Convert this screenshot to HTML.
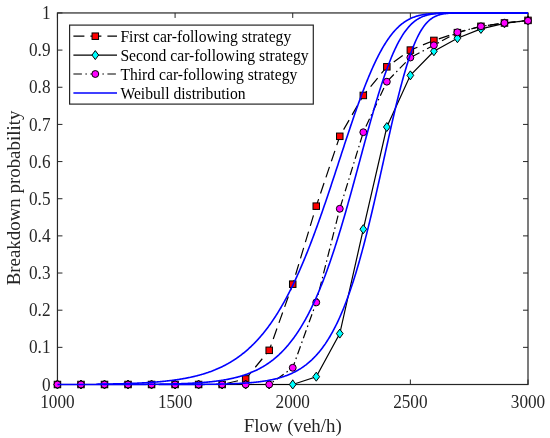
<!DOCTYPE html><html><head><meta charset="utf-8"><style>html,body{margin:0;padding:0;background:#fff;}svg{display:block;}</style></head><body>
<svg width="550" height="438" viewBox="0 0 550 438">
<rect width="550" height="438" fill="#fff"/>
<path d="M57.45 384.50V379.50M57.45 12.95V17.95M175.09 384.50V379.50M175.09 12.95V17.95M292.73 384.50V379.50M292.73 12.95V17.95M410.36 384.50V379.50M410.36 12.95V17.95M528.00 384.50V379.50M528.00 12.95V17.95M57.45 384.50H62.45M528.00 384.50H523.00M57.45 347.35H62.45M528.00 347.35H523.00M57.45 310.19H62.45M528.00 310.19H523.00M57.45 273.03H62.45M528.00 273.03H523.00M57.45 235.88H62.45M528.00 235.88H523.00M57.45 198.72H62.45M528.00 198.72H523.00M57.45 161.57H62.45M528.00 161.57H523.00M57.45 124.42H62.45M528.00 124.42H523.00M57.45 87.26H62.45M528.00 87.26H523.00M57.45 50.10H62.45M528.00 50.10H523.00M57.45 12.95H62.45M528.00 12.95H523.00" stroke="#262626" stroke-width="1" fill="none"/>
<rect x="57.45" y="12.95" width="470.55" height="371.55" stroke="#262626" stroke-width="1.2" fill="none"/>
<g font-family="Liberation Serif, Times New Roman, serif" font-size="17.2" fill="#262626">
<text transform="translate(57.45 407.8) scale(1 1.06)" text-anchor="middle">1000</text>
<text transform="translate(175.09 407.8) scale(1 1.06)" text-anchor="middle">1500</text>
<text transform="translate(292.73 407.8) scale(1 1.06)" text-anchor="middle">2000</text>
<text transform="translate(410.36 407.8) scale(1 1.06)" text-anchor="middle">2500</text>
<text transform="translate(528.00 407.8) scale(1 1.06)" text-anchor="middle">3000</text>
<text transform="translate(50.5 390.60) scale(1 1.06)" text-anchor="end">0</text>
<text transform="translate(50.5 353.45) scale(1 1.06)" text-anchor="end">0.1</text>
<text transform="translate(50.5 316.29) scale(1 1.06)" text-anchor="end">0.2</text>
<text transform="translate(50.5 279.13) scale(1 1.06)" text-anchor="end">0.3</text>
<text transform="translate(50.5 241.98) scale(1 1.06)" text-anchor="end">0.4</text>
<text transform="translate(50.5 204.82) scale(1 1.06)" text-anchor="end">0.5</text>
<text transform="translate(50.5 167.67) scale(1 1.06)" text-anchor="end">0.6</text>
<text transform="translate(50.5 130.52) scale(1 1.06)" text-anchor="end">0.7</text>
<text transform="translate(50.5 93.36) scale(1 1.06)" text-anchor="end">0.8</text>
<text transform="translate(50.5 56.20) scale(1 1.06)" text-anchor="end">0.9</text>
<text transform="translate(50.5 19.05) scale(1 1.06)" text-anchor="end">1</text>
</g>
<text x="292.73" y="431.6" text-anchor="middle" font-family="Liberation Serif, Times New Roman, serif" font-size="18.9" fill="#262626">Flow (veh/h)</text>
<text transform="translate(20.3 198.0) rotate(-90)" text-anchor="middle" font-family="Liberation Serif, Times New Roman, serif" font-size="18.9" fill="#262626">Breakdown probability</text>
<polyline points="57.45,384.50 80.98,384.50 104.51,384.50 128.03,384.50 151.56,384.50 175.09,384.50 198.62,384.50 222.14,384.50 245.67,378.93 269.20,350.32 292.73,284.18 316.25,206.16 339.78,136.30 363.31,95.43 386.83,66.82 410.36,50.10 433.89,40.44 457.42,32.64 480.94,26.33 504.47,22.98 528.00,20.38" fill="none" stroke="#000" stroke-width="1.2" stroke-dasharray="11 6"/>
<polyline points="57.45,384.50 80.98,384.50 104.51,384.50 128.03,384.50 151.56,384.50 175.09,384.50 198.62,384.50 222.14,384.50 245.67,384.50 269.20,384.50 292.73,384.50 316.25,376.70 339.78,333.60 363.31,229.19 386.83,127.02 410.36,75.37 433.89,51.22 457.42,38.22 480.94,28.93 504.47,23.35 528.00,20.38" fill="none" stroke="#000" stroke-width="1.2"/>
<polyline points="57.45,384.50 80.98,384.50 104.51,384.50 128.03,384.50 151.56,384.50 175.09,384.50 198.62,384.50 222.14,384.50 245.67,384.50 269.20,384.50 292.73,367.78 316.25,302.39 339.78,208.76 363.31,132.22 386.83,81.69 410.36,57.54 433.89,45.27 457.42,32.27 480.94,26.33 504.47,22.98 528.00,20.75" fill="none" stroke="#000" stroke-width="1.2" stroke-dasharray="8.5 3.5 1.5 3.5"/>
<g fill="#f00" stroke="#000" stroke-width="1"><rect x="54.20" y="381.25" width="6.50" height="6.50"/><rect x="77.73" y="381.25" width="6.50" height="6.50"/><rect x="101.26" y="381.25" width="6.50" height="6.50"/><rect x="124.78" y="381.25" width="6.50" height="6.50"/><rect x="148.31" y="381.25" width="6.50" height="6.50"/><rect x="171.84" y="381.25" width="6.50" height="6.50"/><rect x="195.37" y="381.25" width="6.50" height="6.50"/><rect x="218.89" y="381.25" width="6.50" height="6.50"/><rect x="242.42" y="375.68" width="6.50" height="6.50"/><rect x="265.95" y="347.07" width="6.50" height="6.50"/><rect x="289.48" y="280.93" width="6.50" height="6.50"/><rect x="313.00" y="202.91" width="6.50" height="6.50"/><rect x="336.53" y="133.05" width="6.50" height="6.50"/><rect x="360.06" y="92.18" width="6.50" height="6.50"/><rect x="383.58" y="63.57" width="6.50" height="6.50"/><rect x="407.11" y="46.85" width="6.50" height="6.50"/><rect x="430.64" y="37.19" width="6.50" height="6.50"/><rect x="454.17" y="29.39" width="6.50" height="6.50"/><rect x="477.69" y="23.08" width="6.50" height="6.50"/><rect x="501.22" y="19.73" width="6.50" height="6.50"/><rect x="524.75" y="17.13" width="6.50" height="6.50"/></g>
<g fill="#0ff" stroke="#000" stroke-width="1"><path d="M57.45 380.00L60.80 384.50L57.45 389.00L54.10 384.50Z"/><path d="M80.98 380.00L84.33 384.50L80.98 389.00L77.63 384.50Z"/><path d="M104.51 380.00L107.86 384.50L104.51 389.00L101.16 384.50Z"/><path d="M128.03 380.00L131.38 384.50L128.03 389.00L124.68 384.50Z"/><path d="M151.56 380.00L154.91 384.50L151.56 389.00L148.21 384.50Z"/><path d="M175.09 380.00L178.44 384.50L175.09 389.00L171.74 384.50Z"/><path d="M198.62 380.00L201.97 384.50L198.62 389.00L195.27 384.50Z"/><path d="M222.14 380.00L225.49 384.50L222.14 389.00L218.79 384.50Z"/><path d="M245.67 380.00L249.02 384.50L245.67 389.00L242.32 384.50Z"/><path d="M269.20 380.00L272.55 384.50L269.20 389.00L265.85 384.50Z"/><path d="M292.73 380.00L296.08 384.50L292.73 389.00L289.38 384.50Z"/><path d="M316.25 372.20L319.60 376.70L316.25 381.20L312.90 376.70Z"/><path d="M339.78 329.10L343.13 333.60L339.78 338.10L336.43 333.60Z"/><path d="M363.31 224.69L366.66 229.19L363.31 233.69L359.96 229.19Z"/><path d="M386.83 122.52L390.19 127.02L386.83 131.52L383.48 127.02Z"/><path d="M410.36 70.87L413.71 75.37L410.36 79.87L407.01 75.37Z"/><path d="M433.89 46.72L437.24 51.22L433.89 55.72L430.54 51.22Z"/><path d="M457.42 33.72L460.77 38.22L457.42 42.72L454.07 38.22Z"/><path d="M480.94 24.43L484.30 28.93L480.94 33.43L477.59 28.93Z"/><path d="M504.47 18.85L507.82 23.35L504.47 27.85L501.12 23.35Z"/><path d="M528.00 15.88L531.35 20.38L528.00 24.88L524.65 20.38Z"/></g>
<g fill="#f0f" stroke="#000" stroke-width="1"><circle cx="57.45" cy="384.50" r="3.45"/><circle cx="80.98" cy="384.50" r="3.45"/><circle cx="104.51" cy="384.50" r="3.45"/><circle cx="128.03" cy="384.50" r="3.45"/><circle cx="151.56" cy="384.50" r="3.45"/><circle cx="175.09" cy="384.50" r="3.45"/><circle cx="198.62" cy="384.50" r="3.45"/><circle cx="222.14" cy="384.50" r="3.45"/><circle cx="245.67" cy="384.50" r="3.45"/><circle cx="269.20" cy="384.50" r="3.45"/><circle cx="292.73" cy="367.78" r="3.45"/><circle cx="316.25" cy="302.39" r="3.45"/><circle cx="339.78" cy="208.76" r="3.45"/><circle cx="363.31" cy="132.22" r="3.45"/><circle cx="386.83" cy="81.69" r="3.45"/><circle cx="410.36" cy="57.54" r="3.45"/><circle cx="433.89" cy="45.27" r="3.45"/><circle cx="457.42" cy="32.27" r="3.45"/><circle cx="480.94" cy="26.33" r="3.45"/><circle cx="504.47" cy="22.98" r="3.45"/><circle cx="528.00" cy="20.75" r="3.45"/></g>
<polyline points="96.27,384.19 96.86,384.19 97.45,384.18 98.03,384.17 98.62,384.16 99.21,384.16 99.80,384.15 100.39,384.14 100.98,384.13 101.56,384.12 102.15,384.12 102.74,384.11 103.33,384.10 103.92,384.09 104.51,384.08 105.09,384.07 105.68,384.06 106.27,384.05 106.86,384.04 107.45,384.03 108.03,384.02 108.62,384.01 109.21,384.00 109.80,383.99 110.39,383.98 110.98,383.97 111.56,383.96 112.15,383.95 112.74,383.93 113.33,383.92 113.92,383.91 114.50,383.90 115.09,383.88 115.68,383.87 116.27,383.86 116.86,383.84 117.45,383.83 118.03,383.82 118.62,383.80 119.21,383.79 119.80,383.77 120.39,383.76 120.97,383.74 121.56,383.72 122.15,383.71 122.74,383.69 123.33,383.67 123.92,383.66 124.50,383.64 125.09,383.62 125.68,383.60 126.27,383.58 126.86,383.57 127.44,383.55 128.03,383.53 128.62,383.51 129.21,383.49 129.80,383.47 130.39,383.44 130.97,383.42 131.56,383.40 132.15,383.38 132.74,383.35 133.33,383.33 133.91,383.31 134.50,383.28 135.09,383.26 135.68,383.23 136.27,383.21 136.86,383.18 137.44,383.16 138.03,383.13 138.62,383.10 139.21,383.07 139.80,383.04 140.38,383.01 140.97,382.98 141.56,382.95 142.15,382.92 142.74,382.89 143.33,382.86 143.91,382.83 144.50,382.79 145.09,382.76 145.68,382.73 146.27,382.69 146.85,382.66 147.44,382.62 148.03,382.58 148.62,382.55 149.21,382.51 149.80,382.47 150.38,382.43 150.97,382.39 151.56,382.35 152.15,382.31 152.74,382.26 153.32,382.22 153.91,382.18 154.50,382.13 155.09,382.09 155.68,382.04 156.27,381.99 156.85,381.94 157.44,381.89 158.03,381.84 158.62,381.79 159.21,381.74 159.79,381.69 160.38,381.64 160.97,381.58 161.56,381.53 162.15,381.47 162.74,381.41 163.32,381.35 163.91,381.30 164.50,381.24 165.09,381.17 165.68,381.11 166.26,381.05 166.85,380.98 167.44,380.92 168.03,380.85 168.62,380.78 169.21,380.71 169.79,380.64 170.38,380.57 170.97,380.50 171.56,380.43 172.15,380.35 172.73,380.27 173.32,380.20 173.91,380.12 174.50,380.04 175.09,379.96 175.68,379.87 176.26,379.79 176.85,379.70 177.44,379.61 178.03,379.53 178.62,379.44 179.20,379.34 179.79,379.25 180.38,379.16 180.97,379.06 181.56,378.96 182.15,378.86 182.73,378.76 183.32,378.66 183.91,378.55 184.50,378.45 185.09,378.34 185.67,378.23 186.26,378.12 186.85,378.00 187.44,377.89 188.03,377.77 188.62,377.65 189.20,377.53 189.79,377.41 190.38,377.28 190.97,377.16 191.56,377.03 192.14,376.89 192.73,376.76 193.32,376.63 193.91,376.49 194.50,376.35 195.09,376.21 195.67,376.06 196.26,375.92 196.85,375.77 197.44,375.62 198.03,375.46 198.62,375.31 199.20,375.15 199.79,374.99 200.38,374.83 200.97,374.66 201.56,374.49 202.14,374.32 202.73,374.15 203.32,373.97 203.91,373.79 204.50,373.61 205.09,373.42 205.67,373.24 206.26,373.05 206.85,372.85 207.44,372.66 208.03,372.46 208.61,372.25 209.20,372.05 209.79,371.84 210.38,371.63 210.97,371.41 211.56,371.20 212.14,370.97 212.73,370.75 213.32,370.52 213.91,370.29 214.50,370.05 215.08,369.82 215.67,369.57 216.26,369.33 216.85,369.08 217.44,368.82 218.03,368.57 218.61,368.31 219.20,368.04 219.79,367.77 220.38,367.50 220.97,367.23 221.55,366.95 222.14,366.66 222.73,366.37 223.32,366.08 223.91,365.78 224.50,365.48 225.08,365.18 225.67,364.87 226.26,364.55 226.85,364.23 227.44,363.91 228.02,363.58 228.61,363.25 229.20,362.91 229.79,362.57 230.38,362.22 230.97,361.87 231.55,361.51 232.14,361.15 232.73,360.79 233.32,360.41 233.91,360.04 234.49,359.65 235.08,359.27 235.67,358.87 236.26,358.48 236.85,358.07 237.44,357.66 238.02,357.25 238.61,356.83 239.20,356.40 239.79,355.97 240.38,355.53 240.96,355.09 241.55,354.64 242.14,354.18 242.73,353.72 243.32,353.25 243.91,352.78 244.49,352.30 245.08,351.81 245.67,351.32 246.26,350.82 246.85,350.31 247.43,349.80 248.02,349.28 248.61,348.75 249.20,348.22 249.79,347.68 250.38,347.13 250.96,346.58 251.55,346.01 252.14,345.45 252.73,344.87 253.32,344.29 253.90,343.70 254.49,343.10 255.08,342.50 255.67,341.88 256.26,341.26 256.85,340.64 257.43,340.00 258.02,339.36 258.61,338.70 259.20,338.05 259.79,337.38 260.37,336.70 260.96,336.02 261.55,335.33 262.14,334.63 262.73,333.92 263.32,333.20 263.90,332.48 264.49,331.74 265.08,331.00 265.67,330.25 266.26,329.49 266.84,328.72 267.43,327.94 268.02,327.16 268.61,326.36 269.20,325.56 269.79,324.74 270.37,323.92 270.96,323.09 271.55,322.25 272.14,321.39 272.73,320.53 273.31,319.66 273.90,318.78 274.49,317.90 275.08,317.00 275.67,316.09 276.26,315.17 276.84,314.24 277.43,313.31 278.02,312.36 278.61,311.40 279.20,310.43 279.78,309.45 280.37,308.47 280.96,307.47 281.55,306.46 282.14,305.44 282.73,304.41 283.31,303.37 283.90,302.33 284.49,301.27 285.08,300.20 285.67,299.12 286.25,298.02 286.84,296.92 287.43,295.81 288.02,294.69 288.61,293.55 289.20,292.41 289.78,291.26 290.37,290.09 290.96,288.92 291.55,287.73 292.14,286.53 292.73,285.32 293.31,284.11 293.90,282.88 294.49,281.64 295.08,280.39 295.67,279.12 296.25,277.85 296.84,276.57 297.43,275.28 298.02,273.97 298.61,272.66 299.20,271.33 299.78,270.00 300.37,268.65 300.96,267.29 301.55,265.93 302.14,264.55 302.72,263.16 303.31,261.76 303.90,260.35 304.49,258.93 305.08,257.50 305.67,256.06 306.25,254.61 306.84,253.15 307.43,251.68 308.02,250.20 308.61,248.71 309.19,247.21 309.78,245.70 310.37,244.18 310.96,242.65 311.55,241.11 312.14,239.56 312.72,238.01 313.31,236.44 313.90,234.87 314.49,233.28 315.08,231.69 315.66,230.09 316.25,228.48 316.84,226.86 317.43,225.23 318.02,223.60 318.61,221.95 319.19,220.30 319.78,218.64 320.37,216.98 320.96,215.30 321.55,213.62 322.13,211.93 322.72,210.24 323.31,208.53 323.90,206.83 324.49,205.11 325.08,203.39 325.66,201.66 326.25,199.93 326.84,198.19 327.43,196.45 328.02,194.70 328.60,192.94 329.19,191.18 329.78,189.42 330.37,187.65 330.96,185.88 331.55,184.11 332.13,182.33 332.72,180.54 333.31,178.76 333.90,176.97 334.49,175.18 335.07,173.38 335.66,171.59 336.25,169.79 336.84,167.99 337.43,166.19 338.02,164.39 338.60,162.59 339.19,160.79 339.78,158.99 340.37,157.19 340.96,155.38 341.54,153.58 342.13,151.78 342.72,149.99 343.31,148.19 343.90,146.39 344.49,144.60 345.07,142.81 345.66,141.03 346.25,139.24 346.84,137.46 347.43,135.69 348.01,133.92 348.60,132.15 349.19,130.39 349.78,128.63 350.37,126.88 350.96,125.13 351.54,123.39 352.13,121.66 352.72,119.94 353.31,118.22 353.90,116.51 354.48,114.80 355.07,113.11 355.66,111.42 356.25,109.74 356.84,108.07 357.43,106.41 358.01,104.76 358.60,103.12 359.19,101.49 359.78,99.87 360.37,98.26 360.95,96.66 361.54,95.08 362.13,93.50 362.72,91.94 363.31,90.39 363.90,88.85 364.48,87.33 365.07,85.82 365.66,84.32 366.25,82.83 366.84,81.36 367.42,79.91 368.01,78.46 368.60,77.04 369.19,75.63 369.78,74.23 370.37,72.85 370.95,71.48 371.54,70.13 372.13,68.80 372.72,67.48 373.31,66.17 373.89,64.89 374.48,63.62 375.07,62.37 375.66,61.13 376.25,59.91 376.84,58.71 377.42,57.53 378.01,56.36 378.60,55.21 379.19,54.08 379.78,52.97 380.36,51.88 380.95,50.80 381.54,49.74 382.13,48.70 382.72,47.67 383.31,46.67 383.89,45.68 384.48,44.71 385.07,43.76 385.66,42.83 386.25,41.91 386.83,41.01 387.42,40.14 388.01,39.27 388.60,38.43 389.19,37.61 389.78,36.80 390.36,36.01 390.95,35.24 391.54,34.48 392.13,33.75 392.72,33.03 393.31,32.32 393.89,31.64 394.48,30.97 395.07,30.32 395.66,29.68 396.25,29.06 396.83,28.46 397.42,27.88 398.01,27.31 398.60,26.75 399.19,26.21 399.78,25.69 400.36,25.18 400.95,24.69 401.54,24.21 402.13,23.74 402.72,23.29 403.30,22.86 403.89,22.44 404.48,22.03 405.07,21.63 405.66,21.25 406.25,20.88 406.83,20.53 407.42,20.18 408.01,19.85 408.60,19.53 409.19,19.22 409.77,18.92 410.36,18.64 410.95,18.36 411.54,18.10 412.13,17.84 412.72,17.60 413.30,17.36 413.89,17.14 414.48,16.92 415.07,16.71 415.66,16.51 416.24,16.32 416.83,16.14 417.42,15.97 418.01,15.80 418.60,15.64 419.19,15.49 419.77,15.35 420.36,15.21 420.95,15.08 421.54,14.96 422.13,14.84 422.71,14.72 423.30,14.62 423.89,14.51 424.48,14.42 425.07,14.33 425.66,14.24 426.24,14.16 426.83,14.08 427.42,14.01 428.01,13.94 428.60,13.87 429.18,13.81 429.77,13.75 430.36,13.70 430.95,13.65 431.54,13.60 432.13,13.55 432.71,13.51 433.30,13.47 433.89,13.43 434.48,13.40 435.07,13.36 435.65,13.33 436.24,13.30 436.83,13.28 437.42,13.25 438.01,13.23 438.60,13.20 439.18,13.18 439.77,13.17 440.36,13.15 440.95,13.13 441.54,13.12 442.12,13.10 442.71,13.09 443.30,13.08 443.89,13.07 444.48,13.06 445.07,13.05 445.65,13.04 446.24,13.03 446.83,13.02 447.42,13.02 448.01,13.01 448.59,13.00 449.18,13.00 449.77,12.99 450.36,12.99 450.95,12.99 451.54,12.98 452.12,12.98 452.71,12.98 453.30,12.97 453.89,12.97 454.48,12.97 455.06,12.97 455.65,12.97 456.24,12.96 456.83,12.96 457.42,12.96 458.01,12.96 458.59,12.96 459.18,12.96 459.77,12.96 460.36,12.96 460.95,12.96 461.53,12.95 462.12,12.95 462.71,12.95 463.30,12.95 463.89,12.95 464.48,12.95 465.06,12.95 465.65,12.95 466.24,12.95 466.83,12.95 467.42,12.95 468.00,12.95 468.59,12.95 469.18,12.95 469.77,12.95 470.36,12.95 470.95,12.95 471.53,12.95 472.12,12.95 472.71,12.95 473.30,12.95 473.89,12.95 474.47,12.95 475.06,12.95 475.65,12.95 476.24,12.95 476.83,12.95 477.42,12.95 478.00,12.95 478.59,12.95 479.18,12.95 479.77,12.95 480.36,12.95 480.94,12.95 481.53,12.95 482.12,12.95 482.71,12.95 483.30,12.95 483.89,12.95 484.47,12.95 485.06,12.95 485.65,12.95 486.24,12.95 486.83,12.95 487.42,12.95 488.00,12.95 488.59,12.95 489.18,12.95 489.77,12.95 490.36,12.95 490.94,12.95 491.53,12.95 492.12,12.95 492.71,12.95 493.30,12.95 493.89,12.95 494.47,12.95 495.06,12.95 495.65,12.95 496.24,12.95 496.83,12.95 497.41,12.95 498.00,12.95 498.59,12.95 499.18,12.95 499.77,12.95 500.36,12.95 500.94,12.95 501.53,12.95 502.12,12.95 502.71,12.95 503.30,12.95 503.88,12.95 504.47,12.95 505.06,12.95 505.65,12.95 506.24,12.95 506.83,12.95 507.41,12.95 508.00,12.95 508.59,12.95 509.18,12.95 509.77,12.95 510.35,12.95 510.94,12.95 511.53,12.95 512.12,12.95 512.71,12.95 513.30,12.95 513.88,12.95 514.47,12.95 515.06,12.95 515.65,12.95 516.24,12.95 516.82,12.95 517.41,12.95 518.00,12.95 518.59,12.95 519.18,12.95 519.77,12.95 520.35,12.95 520.94,12.95 521.53,12.95 522.12,12.95 522.71,12.95 523.29,12.95 523.88,12.95 524.47,12.95 525.06,12.95 525.65,12.95 526.24,12.95 526.82,12.95 527.41,12.95 528.00,12.95" fill="none" stroke="#00f" stroke-width="1.6" stroke-linejoin="round"/>
<polyline points="57.45,384.50 58.04,384.50 58.63,384.50 59.21,384.50 59.80,384.50 60.39,384.50 60.98,384.50 61.57,384.50 62.16,384.50 62.74,384.50 63.33,384.50 63.92,384.50 64.51,384.50 65.10,384.50 65.68,384.50 66.27,384.50 66.86,384.50 67.45,384.50 68.04,384.50 68.63,384.50 69.21,384.50 69.80,384.50 70.39,384.50 70.98,384.50 71.57,384.50 72.15,384.50 72.74,384.50 73.33,384.50 73.92,384.50 74.51,384.50 75.10,384.50 75.68,384.50 76.27,384.50 76.86,384.50 77.45,384.50 78.04,384.50 78.62,384.50 79.21,384.50 79.80,384.50 80.39,384.50 80.98,384.50 81.57,384.49 82.15,384.49 82.74,384.49 83.33,384.49 83.92,384.49 84.51,384.49 85.09,384.49 85.68,384.49 86.27,384.49 86.86,384.49 87.45,384.49 88.04,384.49 88.62,384.49 89.21,384.49 89.80,384.49 90.39,384.49 90.98,384.49 91.56,384.49 92.15,384.49 92.74,384.49 93.33,384.49 93.92,384.49 94.51,384.49 95.09,384.49 95.68,384.49 96.27,384.49 96.86,384.49 97.45,384.49 98.03,384.49 98.62,384.49 99.21,384.49 99.80,384.49 100.39,384.48 100.98,384.48 101.56,384.48 102.15,384.48 102.74,384.48 103.33,384.48 103.92,384.48 104.51,384.48 105.09,384.48 105.68,384.48 106.27,384.48 106.86,384.48 107.45,384.48 108.03,384.48 108.62,384.48 109.21,384.47 109.80,384.47 110.39,384.47 110.98,384.47 111.56,384.47 112.15,384.47 112.74,384.47 113.33,384.47 113.92,384.47 114.50,384.47 115.09,384.46 115.68,384.46 116.27,384.46 116.86,384.46 117.45,384.46 118.03,384.46 118.62,384.46 119.21,384.46 119.80,384.45 120.39,384.45 120.97,384.45 121.56,384.45 122.15,384.45 122.74,384.45 123.33,384.45 123.92,384.44 124.50,384.44 125.09,384.44 125.68,384.44 126.27,384.44 126.86,384.43 127.44,384.43 128.03,384.43 128.62,384.43 129.21,384.43 129.80,384.42 130.39,384.42 130.97,384.42 131.56,384.42 132.15,384.41 132.74,384.41 133.33,384.41 133.91,384.41 134.50,384.40 135.09,384.40 135.68,384.40 136.27,384.40 136.86,384.39 137.44,384.39 138.03,384.39 138.62,384.38 139.21,384.38 139.80,384.38 140.38,384.37 140.97,384.37 141.56,384.36 142.15,384.36 142.74,384.36 143.33,384.35 143.91,384.35 144.50,384.34 145.09,384.34 145.68,384.33 146.27,384.33 146.85,384.32 147.44,384.32 148.03,384.31 148.62,384.31 149.21,384.30 149.80,384.30 150.38,384.29 150.97,384.29 151.56,384.28 152.15,384.27 152.74,384.27 153.32,384.26 153.91,384.26 154.50,384.25 155.09,384.24 155.68,384.23 156.27,384.23 156.85,384.22 157.44,384.21 158.03,384.20 158.62,384.20 159.21,384.19 159.79,384.18 160.38,384.17 160.97,384.16 161.56,384.15 162.15,384.14 162.74,384.13 163.32,384.12 163.91,384.11 164.50,384.10 165.09,384.09 165.68,384.08 166.26,384.07 166.85,384.06 167.44,384.05 168.03,384.04 168.62,384.02 169.21,384.01 169.79,384.00 170.38,383.98 170.97,383.97 171.56,383.96 172.15,383.94 172.73,383.93 173.32,383.91 173.91,383.90 174.50,383.88 175.09,383.87 175.68,383.85 176.26,383.83 176.85,383.82 177.44,383.80 178.03,383.78 178.62,383.76 179.20,383.74 179.79,383.72 180.38,383.70 180.97,383.68 181.56,383.66 182.15,383.64 182.73,383.62 183.32,383.60 183.91,383.58 184.50,383.55 185.09,383.53 185.67,383.50 186.26,383.48 186.85,383.45 187.44,383.43 188.03,383.40 188.62,383.37 189.20,383.35 189.79,383.32 190.38,383.29 190.97,383.26 191.56,383.23 192.14,383.20 192.73,383.17 193.32,383.13 193.91,383.10 194.50,383.07 195.09,383.03 195.67,383.00 196.26,382.96 196.85,382.92 197.44,382.88 198.03,382.85 198.62,382.81 199.20,382.76 199.79,382.72 200.38,382.68 200.97,382.64 201.56,382.59 202.14,382.55 202.73,382.50 203.32,382.45 203.91,382.41 204.50,382.36 205.09,382.31 205.67,382.26 206.26,382.20 206.85,382.15 207.44,382.09 208.03,382.04 208.61,381.98 209.20,381.92 209.79,381.86 210.38,381.80 210.97,381.74 211.56,381.68 212.14,381.61 212.73,381.54 213.32,381.48 213.91,381.41 214.50,381.34 215.08,381.26 215.67,381.19 216.26,381.12 216.85,381.04 217.44,380.96 218.03,380.88 218.61,380.80 219.20,380.72 219.79,380.63 220.38,380.54 220.97,380.45 221.55,380.36 222.14,380.27 222.73,380.18 223.32,380.08 223.91,379.98 224.50,379.88 225.08,379.78 225.67,379.68 226.26,379.57 226.85,379.46 227.44,379.35 228.02,379.24 228.61,379.12 229.20,379.01 229.79,378.89 230.38,378.76 230.97,378.64 231.55,378.51 232.14,378.38 232.73,378.25 233.32,378.12 233.91,377.98 234.49,377.84 235.08,377.70 235.67,377.55 236.26,377.40 236.85,377.25 237.44,377.10 238.02,376.94 238.61,376.78 239.20,376.61 239.79,376.45 240.38,376.28 240.96,376.11 241.55,375.93 242.14,375.75 242.73,375.57 243.32,375.38 243.91,375.19 244.49,374.99 245.08,374.80 245.67,374.60 246.26,374.39 246.85,374.18 247.43,373.97 248.02,373.75 248.61,373.53 249.20,373.30 249.79,373.08 250.38,372.84 250.96,372.60 251.55,372.36 252.14,372.11 252.73,371.86 253.32,371.61 253.90,371.35 254.49,371.08 255.08,370.81 255.67,370.54 256.26,370.25 256.85,369.97 257.43,369.68 258.02,369.38 258.61,369.08 259.20,368.78 259.79,368.46 260.37,368.15 260.96,367.82 261.55,367.49 262.14,367.16 262.73,366.82 263.32,366.47 263.90,366.12 264.49,365.76 265.08,365.40 265.67,365.02 266.26,364.65 266.84,364.26 267.43,363.87 268.02,363.47 268.61,363.07 269.20,362.66 269.79,362.24 270.37,361.81 270.96,361.38 271.55,360.94 272.14,360.49 272.73,360.04 273.31,359.57 273.90,359.10 274.49,358.62 275.08,358.14 275.67,357.64 276.26,357.14 276.84,356.63 277.43,356.11 278.02,355.58 278.61,355.04 279.20,354.50 279.78,353.94 280.37,353.38 280.96,352.81 281.55,352.23 282.14,351.64 282.73,351.04 283.31,350.43 283.90,349.81 284.49,349.18 285.08,348.54 285.67,347.89 286.25,347.23 286.84,346.56 287.43,345.88 288.02,345.19 288.61,344.49 289.20,343.78 289.78,343.05 290.37,342.32 290.96,341.58 291.55,340.82 292.14,340.05 292.73,339.28 293.31,338.49 293.90,337.68 294.49,336.87 295.08,336.05 295.67,335.21 296.25,334.36 296.84,333.50 297.43,332.62 298.02,331.74 298.61,330.84 299.20,329.92 299.78,329.00 300.37,328.06 300.96,327.11 301.55,326.15 302.14,325.17 302.72,324.18 303.31,323.17 303.90,322.16 304.49,321.12 305.08,320.08 305.67,319.02 306.25,317.95 306.84,316.86 307.43,315.76 308.02,314.64 308.61,313.51 309.19,312.36 309.78,311.20 310.37,310.03 310.96,308.84 311.55,307.64 312.14,306.42 312.72,305.19 313.31,303.94 313.90,302.67 314.49,301.39 315.08,300.10 315.66,298.79 316.25,297.46 316.84,296.12 317.43,294.77 318.02,293.40 318.61,292.01 319.19,290.61 319.78,289.19 320.37,287.76 320.96,286.31 321.55,284.84 322.13,283.36 322.72,281.86 323.31,280.35 323.90,278.82 324.49,277.28 325.08,275.72 325.66,274.15 326.25,272.56 326.84,270.95 327.43,269.33 328.02,267.69 328.60,266.04 329.19,264.37 329.78,262.69 330.37,260.99 330.96,259.28 331.55,257.55 332.13,255.81 332.72,254.05 333.31,252.28 333.90,250.49 334.49,248.69 335.07,246.87 335.66,245.04 336.25,243.20 336.84,241.34 337.43,239.47 338.02,237.58 338.60,235.68 339.19,233.77 339.78,231.84 340.37,229.90 340.96,227.95 341.54,225.99 342.13,224.02 342.72,222.03 343.31,220.03 343.90,218.02 344.49,216.00 345.07,213.97 345.66,211.93 346.25,209.87 346.84,207.81 347.43,205.74 348.01,203.66 348.60,201.57 349.19,199.47 349.78,197.36 350.37,195.25 350.96,193.13 351.54,191.00 352.13,188.87 352.72,186.72 353.31,184.58 353.90,182.42 354.48,180.27 355.07,178.11 355.66,175.94 356.25,173.77 356.84,171.60 357.43,169.42 358.01,167.25 358.60,165.07 359.19,162.89 359.78,160.71 360.37,158.53 360.95,156.35 361.54,154.17 362.13,151.99 362.72,149.81 363.31,147.64 363.90,145.47 364.48,143.30 365.07,141.14 365.66,138.98 366.25,136.83 366.84,134.68 367.42,132.54 368.01,130.41 368.60,128.28 369.19,126.17 369.78,124.06 370.37,121.96 370.95,119.87 371.54,117.79 372.13,115.72 372.72,113.66 373.31,111.62 373.89,109.59 374.48,107.57 375.07,105.56 375.66,103.57 376.25,101.60 376.84,99.64 377.42,97.70 378.01,95.77 378.60,93.86 379.19,91.96 379.78,90.09 380.36,88.23 380.95,86.40 381.54,84.58 382.13,82.78 382.72,81.00 383.31,79.25 383.89,77.51 384.48,75.80 385.07,74.11 385.66,72.44 386.25,70.79 386.83,69.17 387.42,67.57 388.01,66.00 388.60,64.44 389.19,62.92 389.78,61.42 390.36,59.94 390.95,58.49 391.54,57.06 392.13,55.66 392.72,54.28 393.31,52.93 393.89,51.61 394.48,50.32 395.07,49.04 395.66,47.80 396.25,46.58 396.83,45.39 397.42,44.23 398.01,43.09 398.60,41.98 399.19,40.89 399.78,39.83 400.36,38.80 400.95,37.80 401.54,36.82 402.13,35.86 402.72,34.93 403.30,34.03 403.89,33.15 404.48,32.30 405.07,31.48 405.66,30.67 406.25,29.90 406.83,29.14 407.42,28.41 408.01,27.71 408.60,27.02 409.19,26.36 409.77,25.73 410.36,25.11 410.95,24.52 411.54,23.95 412.13,23.40 412.72,22.87 413.30,22.36 413.89,21.87 414.48,21.40 415.07,20.95 415.66,20.51 416.24,20.10 416.83,19.70 417.42,19.32 418.01,18.96 418.60,18.61 419.19,18.28 419.77,17.97 420.36,17.66 420.95,17.38 421.54,17.11 422.13,16.85 422.71,16.60 423.30,16.37 423.89,16.15 424.48,15.94 425.07,15.74 425.66,15.55 426.24,15.37 426.83,15.21 427.42,15.05 428.01,14.90 428.60,14.76 429.18,14.63 429.77,14.51 430.36,14.39 430.95,14.28 431.54,14.18 432.13,14.09 432.71,14.00 433.30,13.91 433.89,13.84 434.48,13.76 435.07,13.70 435.65,13.64 436.24,13.58 436.83,13.52 437.42,13.47 438.01,13.43 438.60,13.39 439.18,13.35 439.77,13.31 440.36,13.28 440.95,13.25 441.54,13.22 442.12,13.19 442.71,13.17 443.30,13.15 443.89,13.13 444.48,13.11 445.07,13.10 445.65,13.08 446.24,13.07 446.83,13.05 447.42,13.04 448.01,13.03 448.59,13.02 449.18,13.02 449.77,13.01 450.36,13.00 450.95,13.00 451.54,12.99 452.12,12.99 452.71,12.98 453.30,12.98 453.89,12.97 454.48,12.97 455.06,12.97 455.65,12.97 456.24,12.96 456.83,12.96 457.42,12.96 458.01,12.96 458.59,12.96 459.18,12.96 459.77,12.96 460.36,12.96 460.95,12.95 461.53,12.95 462.12,12.95 462.71,12.95 463.30,12.95 463.89,12.95 464.48,12.95 465.06,12.95 465.65,12.95 466.24,12.95 466.83,12.95 467.42,12.95 468.00,12.95 468.59,12.95 469.18,12.95 469.77,12.95 470.36,12.95 470.95,12.95 471.53,12.95 472.12,12.95 472.71,12.95 473.30,12.95 473.89,12.95 474.47,12.95 475.06,12.95 475.65,12.95 476.24,12.95 476.83,12.95 477.42,12.95 478.00,12.95 478.59,12.95 479.18,12.95 479.77,12.95 480.36,12.95 480.94,12.95 481.53,12.95 482.12,12.95 482.71,12.95 483.30,12.95 483.89,12.95 484.47,12.95 485.06,12.95 485.65,12.95 486.24,12.95 486.83,12.95 487.42,12.95 488.00,12.95 488.59,12.95 489.18,12.95 489.77,12.95 490.36,12.95 490.94,12.95 491.53,12.95 492.12,12.95 492.71,12.95 493.30,12.95 493.89,12.95 494.47,12.95 495.06,12.95 495.65,12.95 496.24,12.95 496.83,12.95 497.41,12.95 498.00,12.95 498.59,12.95 499.18,12.95 499.77,12.95 500.36,12.95 500.94,12.95 501.53,12.95 502.12,12.95 502.71,12.95 503.30,12.95 503.88,12.95 504.47,12.95 505.06,12.95 505.65,12.95 506.24,12.95 506.83,12.95 507.41,12.95 508.00,12.95 508.59,12.95 509.18,12.95 509.77,12.95 510.35,12.95 510.94,12.95 511.53,12.95 512.12,12.95 512.71,12.95 513.30,12.95 513.88,12.95 514.47,12.95 515.06,12.95 515.65,12.95 516.24,12.95 516.82,12.95 517.41,12.95 518.00,12.95 518.59,12.95 519.18,12.95 519.77,12.95 520.35,12.95 520.94,12.95 521.53,12.95 522.12,12.95 522.71,12.95 523.29,12.95 523.88,12.95 524.47,12.95 525.06,12.95 525.65,12.95 526.24,12.95 526.82,12.95 527.41,12.95 528.00,12.95" fill="none" stroke="#00f" stroke-width="1.6" stroke-linejoin="round"/>
<polyline points="158.62,384.49 159.21,384.49 159.79,384.49 160.38,384.49 160.97,384.49 161.56,384.49 162.15,384.49 162.74,384.49 163.32,384.49 163.91,384.48 164.50,384.48 165.09,384.48 165.68,384.48 166.26,384.48 166.85,384.48 167.44,384.48 168.03,384.48 168.62,384.48 169.21,384.48 169.79,384.48 170.38,384.48 170.97,384.48 171.56,384.47 172.15,384.47 172.73,384.47 173.32,384.47 173.91,384.47 174.50,384.47 175.09,384.47 175.68,384.47 176.26,384.47 176.85,384.47 177.44,384.46 178.03,384.46 178.62,384.46 179.20,384.46 179.79,384.46 180.38,384.46 180.97,384.46 181.56,384.45 182.15,384.45 182.73,384.45 183.32,384.45 183.91,384.45 184.50,384.44 185.09,384.44 185.67,384.44 186.26,384.44 186.85,384.44 187.44,384.43 188.03,384.43 188.62,384.43 189.20,384.43 189.79,384.42 190.38,384.42 190.97,384.42 191.56,384.42 192.14,384.41 192.73,384.41 193.32,384.41 193.91,384.40 194.50,384.40 195.09,384.40 195.67,384.39 196.26,384.39 196.85,384.39 197.44,384.38 198.03,384.38 198.62,384.37 199.20,384.37 199.79,384.37 200.38,384.36 200.97,384.36 201.56,384.35 202.14,384.35 202.73,384.34 203.32,384.34 203.91,384.33 204.50,384.33 205.09,384.32 205.67,384.31 206.26,384.31 206.85,384.30 207.44,384.30 208.03,384.29 208.61,384.28 209.20,384.27 209.79,384.27 210.38,384.26 210.97,384.25 211.56,384.24 212.14,384.24 212.73,384.23 213.32,384.22 213.91,384.21 214.50,384.20 215.08,384.19 215.67,384.18 216.26,384.17 216.85,384.16 217.44,384.15 218.03,384.14 218.61,384.13 219.20,384.12 219.79,384.10 220.38,384.09 220.97,384.08 221.55,384.07 222.14,384.05 222.73,384.04 223.32,384.03 223.91,384.01 224.50,384.00 225.08,383.98 225.67,383.96 226.26,383.95 226.85,383.93 227.44,383.91 228.02,383.90 228.61,383.88 229.20,383.86 229.79,383.84 230.38,383.82 230.97,383.80 231.55,383.78 232.14,383.76 232.73,383.73 233.32,383.71 233.91,383.69 234.49,383.66 235.08,383.64 235.67,383.61 236.26,383.59 236.85,383.56 237.44,383.53 238.02,383.51 238.61,383.48 239.20,383.45 239.79,383.42 240.38,383.38 240.96,383.35 241.55,383.32 242.14,383.28 242.73,383.25 243.32,383.21 243.91,383.18 244.49,383.14 245.08,383.10 245.67,383.06 246.26,383.02 246.85,382.98 247.43,382.93 248.02,382.89 248.61,382.84 249.20,382.80 249.79,382.75 250.38,382.70 250.96,382.65 251.55,382.60 252.14,382.54 252.73,382.49 253.32,382.43 253.90,382.38 254.49,382.32 255.08,382.26 255.67,382.19 256.26,382.13 256.85,382.07 257.43,382.00 258.02,381.93 258.61,381.86 259.20,381.79 259.79,381.71 260.37,381.64 260.96,381.56 261.55,381.48 262.14,381.40 262.73,381.32 263.32,381.23 263.90,381.14 264.49,381.05 265.08,380.96 265.67,380.86 266.26,380.77 266.84,380.67 267.43,380.57 268.02,380.46 268.61,380.35 269.20,380.25 269.79,380.13 270.37,380.02 270.96,379.90 271.55,379.78 272.14,379.66 272.73,379.53 273.31,379.40 273.90,379.27 274.49,379.13 275.08,378.99 275.67,378.85 276.26,378.70 276.84,378.56 277.43,378.40 278.02,378.25 278.61,378.09 279.20,377.92 279.78,377.75 280.37,377.58 280.96,377.41 281.55,377.23 282.14,377.04 282.73,376.85 283.31,376.66 283.90,376.46 284.49,376.26 285.08,376.06 285.67,375.84 286.25,375.63 286.84,375.41 287.43,375.18 288.02,374.95 288.61,374.71 289.20,374.47 289.78,374.22 290.37,373.97 290.96,373.71 291.55,373.45 292.14,373.18 292.73,372.90 293.31,372.62 293.90,372.33 294.49,372.03 295.08,371.73 295.67,371.42 296.25,371.11 296.84,370.79 297.43,370.46 298.02,370.12 298.61,369.78 299.20,369.43 299.78,369.07 300.37,368.70 300.96,368.33 301.55,367.94 302.14,367.55 302.72,367.15 303.31,366.75 303.90,366.33 304.49,365.90 305.08,365.47 305.67,365.03 306.25,364.57 306.84,364.11 307.43,363.64 308.02,363.16 308.61,362.67 309.19,362.17 309.78,361.65 310.37,361.13 310.96,360.60 311.55,360.05 312.14,359.50 312.72,358.93 313.31,358.36 313.90,357.77 314.49,357.16 315.08,356.55 315.66,355.93 316.25,355.29 316.84,354.64 317.43,353.97 318.02,353.30 318.61,352.61 319.19,351.91 319.78,351.19 320.37,350.46 320.96,349.72 321.55,348.96 322.13,348.18 322.72,347.40 323.31,346.59 323.90,345.78 324.49,344.94 325.08,344.10 325.66,343.23 326.25,342.35 326.84,341.46 327.43,340.54 328.02,339.61 328.60,338.67 329.19,337.71 329.78,336.73 330.37,335.73 330.96,334.71 331.55,333.68 332.13,332.63 332.72,331.56 333.31,330.47 333.90,329.36 334.49,328.24 335.07,327.09 335.66,325.93 336.25,324.75 336.84,323.54 337.43,322.32 338.02,321.07 338.60,319.81 339.19,318.53 339.78,317.22 340.37,315.90 340.96,314.55 341.54,313.18 342.13,311.79 342.72,310.38 343.31,308.95 343.90,307.49 344.49,306.01 345.07,304.52 345.66,302.99 346.25,301.45 346.84,299.89 347.43,298.30 348.01,296.69 348.60,295.05 349.19,293.39 349.78,291.71 350.37,290.01 350.96,288.28 351.54,286.53 352.13,284.76 352.72,282.97 353.31,281.15 353.90,279.30 354.48,277.44 355.07,275.55 355.66,273.64 356.25,271.70 356.84,269.74 357.43,267.76 358.01,265.75 358.60,263.73 359.19,261.68 359.78,259.60 360.37,257.51 360.95,255.39 361.54,253.25 362.13,251.09 362.72,248.90 363.31,246.70 363.90,244.47 364.48,242.23 365.07,239.96 365.66,237.67 366.25,235.36 366.84,233.03 367.42,230.68 368.01,228.32 368.60,225.93 369.19,223.53 369.78,221.10 370.37,218.67 370.95,216.21 371.54,213.74 372.13,211.25 372.72,208.75 373.31,206.23 373.89,203.70 374.48,201.15 375.07,198.59 375.66,196.02 376.25,193.44 376.84,190.85 377.42,188.24 378.01,185.63 378.60,183.01 379.19,180.38 379.78,177.74 380.36,175.10 380.95,172.45 381.54,169.80 382.13,167.15 382.72,164.49 383.31,161.83 383.89,159.16 384.48,156.50 385.07,153.84 385.66,151.18 386.25,148.53 386.83,145.88 387.42,143.23 388.01,140.59 388.60,137.95 389.19,135.33 389.78,132.71 390.36,130.10 390.95,127.51 391.54,124.92 392.13,122.35 392.72,119.79 393.31,117.25 393.89,114.73 394.48,112.22 395.07,109.73 395.66,107.26 396.25,104.81 396.83,102.38 397.42,99.98 398.01,97.60 398.60,95.24 399.19,92.91 399.78,90.60 400.36,88.32 400.95,86.07 401.54,83.85 402.13,81.66 402.72,79.50 403.30,77.37 403.89,75.28 404.48,73.22 405.07,71.19 405.66,69.19 406.25,67.23 406.83,65.31 407.42,63.42 408.01,61.57 408.60,59.76 409.19,57.98 409.77,56.25 410.36,54.55 410.95,52.89 411.54,51.27 412.13,49.69 412.72,48.15 413.30,46.64 413.89,45.18 414.48,43.76 415.07,42.38 415.66,41.04 416.24,39.73 416.83,38.47 417.42,37.25 418.01,36.06 418.60,34.92 419.19,33.81 419.77,32.74 420.36,31.71 420.95,30.72 421.54,29.76 422.13,28.84 422.71,27.96 423.30,27.11 423.89,26.30 424.48,25.52 425.07,24.78 425.66,24.06 426.24,23.38 426.83,22.73 427.42,22.11 428.01,21.52 428.60,20.96 429.18,20.43 429.77,19.93 430.36,19.45 430.95,19.00 431.54,18.57 432.13,18.17 432.71,17.78 433.30,17.43 433.89,17.09 434.48,16.77 435.07,16.47 435.65,16.20 436.24,15.94 436.83,15.69 437.42,15.47 438.01,15.25 438.60,15.06 439.18,14.87 439.77,14.70 440.36,14.55 440.95,14.40 441.54,14.27 442.12,14.14 442.71,14.03 443.30,13.93 443.89,13.83 444.48,13.74 445.07,13.66 445.65,13.59 446.24,13.52 446.83,13.46 447.42,13.41 448.01,13.36 448.59,13.31 449.18,13.27 449.77,13.23 450.36,13.20 450.95,13.17 451.54,13.15 452.12,13.12 452.71,13.10 453.30,13.08 453.89,13.07 454.48,13.05 455.06,13.04 455.65,13.03 456.24,13.02 456.83,13.01 457.42,13.00 458.01,12.99 458.59,12.99 459.18,12.98 459.77,12.98 460.36,12.97 460.95,12.97 461.53,12.97 462.12,12.96 462.71,12.96 463.30,12.96 463.89,12.96 464.48,12.96 465.06,12.96 465.65,12.95 466.24,12.95 466.83,12.95 467.42,12.95 468.00,12.95 468.59,12.95 469.18,12.95 469.77,12.95 470.36,12.95 470.95,12.95 471.53,12.95 472.12,12.95 472.71,12.95 473.30,12.95 473.89,12.95 474.47,12.95 475.06,12.95 475.65,12.95 476.24,12.95 476.83,12.95 477.42,12.95 478.00,12.95 478.59,12.95 479.18,12.95 479.77,12.95 480.36,12.95 480.94,12.95 481.53,12.95 482.12,12.95 482.71,12.95 483.30,12.95 483.89,12.95 484.47,12.95 485.06,12.95 485.65,12.95 486.24,12.95 486.83,12.95 487.42,12.95 488.00,12.95 488.59,12.95 489.18,12.95 489.77,12.95 490.36,12.95 490.94,12.95 491.53,12.95 492.12,12.95 492.71,12.95 493.30,12.95 493.89,12.95 494.47,12.95 495.06,12.95 495.65,12.95 496.24,12.95 496.83,12.95 497.41,12.95 498.00,12.95 498.59,12.95 499.18,12.95 499.77,12.95 500.36,12.95 500.94,12.95 501.53,12.95 502.12,12.95 502.71,12.95 503.30,12.95 503.88,12.95 504.47,12.95 505.06,12.95 505.65,12.95 506.24,12.95 506.83,12.95 507.41,12.95 508.00,12.95 508.59,12.95 509.18,12.95 509.77,12.95 510.35,12.95 510.94,12.95 511.53,12.95 512.12,12.95 512.71,12.95 513.30,12.95 513.88,12.95 514.47,12.95 515.06,12.95 515.65,12.95 516.24,12.95 516.82,12.95 517.41,12.95 518.00,12.95 518.59,12.95 519.18,12.95 519.77,12.95 520.35,12.95 520.94,12.95 521.53,12.95 522.12,12.95 522.71,12.95 523.29,12.95 523.88,12.95 524.47,12.95 525.06,12.95 525.65,12.95 526.24,12.95 526.82,12.95 527.41,12.95 528.00,12.95" fill="none" stroke="#00f" stroke-width="1.6" stroke-linejoin="round"/>
<rect x="69.6" y="25.1" width="243.70" height="79.00" fill="#fff" stroke="#262626" stroke-width="1.2"/>
<line x1="73.4" y1="36.2" x2="117.0" y2="36.2" stroke="#000" stroke-width="1.2" stroke-dasharray="11 6"/>
<line x1="73.4" y1="55.1" x2="117.0" y2="55.1" stroke="#000" stroke-width="1.2"/>
<line x1="73.4" y1="74.0" x2="117.0" y2="74.0" stroke="#000" stroke-width="1.2" stroke-dasharray="8.5 3.5 1.5 3.5"/>
<line x1="73.4" y1="92.95" x2="117.0" y2="92.95" stroke="#00f" stroke-width="1.6"/>
<g fill="#f00" stroke="#000" stroke-width="1"><rect x="92.05" y="32.95" width="6.50" height="6.50"/></g>
<g fill="#0ff" stroke="#000" stroke-width="1"><path d="M95.30 50.60L98.65 55.10L95.30 59.60L91.95 55.10Z"/></g>
<g fill="#f0f" stroke="#000" stroke-width="1"><circle cx="95.30" cy="74.00" r="3.45"/></g>
<g font-family="Liberation Serif, Times New Roman, serif" font-size="15.65" fill="#000">
<text x="120.4" y="41.80">First car-following strategy</text>
<text x="120.4" y="60.70">Second car-following strategy</text>
<text x="120.4" y="79.60">Third car-following strategy</text>
<text x="120.4" y="98.55">Weibull distribution</text>
</g>
</svg></body></html>
